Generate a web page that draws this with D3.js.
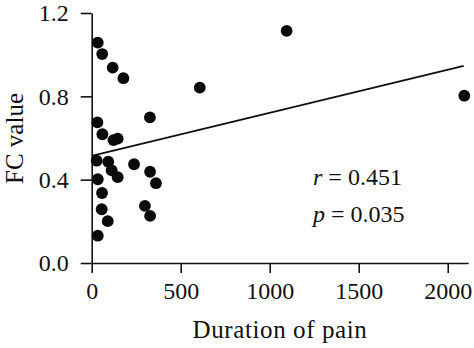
<!DOCTYPE html>
<html>
<head>
<meta charset="utf-8">
<script src="https://cdn.jsdelivr.net/npm/d3@7"></script>
<style>
  html, body { margin: 0; padding: 0; background: #fff; }
  svg { display: block; }
  text { font-family: "Liberation Serif", "Times New Roman", serif; fill: #111; }
</style>
</head>
<body>
<svg id="chart" width="474" height="348"></svg>
<script>
// Data
const durations = [34, 59, 118, 178, 607, 1095, 2093, 32, 327, 60, 122, 146,
                   28, 93, 112, 146, 34, 238, 328, 361, 58, 299, 328, 56, 90, 34];
const fcValues  = [1.058, 1.003, 0.938, 0.887, 0.842, 1.114, 0.803, 0.675, 0.699, 0.618, 0.590, 0.597,
                   0.491, 0.486, 0.445, 0.412, 0.402, 0.474, 0.438, 0.383, 0.336, 0.274, 0.226, 0.258, 0.201, 0.131];
const xTicks = [0, 500, 1000, 1500, 2000];
const yTicks = [0.0, 0.4, 0.8, 1.2];
const fitStart = [0, 0.514];
const fitEnd = [2090, 0.946];
const statsLabels = [["r", " = 0.451"], ["p", " = 0.035"]];
const xTitle = "Duration of pain";
const yTitle = "FC value";

const svg = d3.select("#chart");
const x = d3.scaleLinear().domain([0, 2115]).range([91.7, 468.2]);
const y = d3.scaleLinear().domain([0, 1.2]).range([263, 13]);

const xAxis = d3.axisBottom(x).tickValues(xTicks).tickFormat(d3.format("d"))
  .tickSize(10).tickSizeOuter(0).tickPadding(9);
const yAxis = d3.axisLeft(y).tickValues(yTicks).tickFormat(d3.format(".1f"))
  .tickSize(11).tickSizeOuter(0).tickPadding(12);

const gx = svg.append("g").attr("transform", `translate(0,${y(0)})`).call(xAxis);
const gy = svg.append("g").attr("transform", `translate(${x(0)},0)`).call(yAxis);
[gx, gy].forEach(g => {
  g.attr("font-family", null);
  g.selectAll("path, line").attr("stroke", "#111").attr("stroke-width", 1.6);
  g.selectAll("text").style("font-size", "24px")
   .style("font-family", '"Liberation Serif", "Times New Roman", serif').attr("fill", "#111");
});

// regression line
svg.append("line")
  .attr("x1", x(fitStart[0])).attr("y1", y(fitStart[1]))
  .attr("x2", x(fitEnd[0])).attr("y2", y(fitEnd[1]))
  .attr("stroke", "#111").attr("stroke-width", 1.9);

// points
svg.append("g").selectAll("circle")
  .data(durations.map((d, i) => [d, fcValues[i]]))
  .join("circle")
  .attr("cx", d => x(d[0])).attr("cy", d => y(d[1]))
  .attr("r", 5.9).attr("fill", "#0a0a0a");

// stats text
const statY = [185, 221.5];
statsLabels.forEach((s, i) => {
  const t = svg.append("text").attr("x", 313).attr("y", statY[i]).style("font-size", "24px");
  t.append("tspan").style("font-style", "italic").text(s[0]);
  t.append("tspan").text(s[1]);
});

// axis titles
svg.append("text").attr("x", 280).attr("y", 338).attr("text-anchor", "middle")
  .style("font-size", "25px").style("letter-spacing", "0.6px").text(xTitle);
svg.append("text").attr("transform", "translate(23,138.5) rotate(-90)")
  .attr("text-anchor", "middle").style("font-size", "25px").text(yTitle);
</script>
</body>
</html>
